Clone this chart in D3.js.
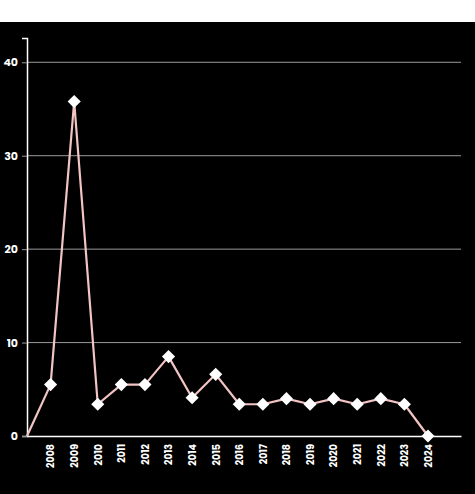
<!DOCTYPE html>
<html>
<head>
<meta charset="utf-8">
<script src="https://cdn.jsdelivr.net/npm/d3@7"></script>
<style>
    body { margin: 0; background: #fff; }
    svg { display: block; }
    text { font-family: "Poppins", "Inter", "Lato", sans-serif; font-weight: 700; fill: #fff; }
</style>
</head>
<body>
<svg class="chart"></svg>
<script>
(function () {
    // data
    const years = [2007, 2008, 2009, 2010, 2011, 2012, 2013, 2014, 2015, 2016, 2017, 2018, 2019, 2020, 2021, 2022, 2023, 2024];
    const values = [0, 5.5, 35.8, 3.4, 5.5, 5.5, 8.5, 4.1, 6.6, 3.4, 3.4, 4.0, 3.4, 4.0, 3.4, 4.0, 3.4, 0];
    const yTicks = [0, 10, 20, 30, 40];
    // first point is just the line's start, no marker and no label
    const labelYears = years.slice(1);

    const width = 475;
    const height = 494;
    const margin = { left: 27, top: 38, right: 14, bottom: 58 };

    let data = years.map(function (y, i) { return { year: y, value: values[i] }; });

    let svg = d3.select("svg.chart")
        .attr("width", width)
        .attr("height", height);

    svg.append("rect")
        .attr("x", 0)
        .attr("y", 22)
        .attr("width", width)
        .attr("height", height - 22)
        .attr("fill", "#000");

    let x = d3.scaleLinear()
        .domain([2007, 2025.4])
        .range([margin.left, width - margin.right]);

    let y = d3.scaleLinear()
        .domain([0, 42.6])
        .range([height - margin.bottom, margin.top]);

    // gridlines
    svg.append("g")
        .selectAll("line")
        .data(yTicks.filter(function (d) { return d > 0; }))
        .enter().append("line")
        .attr("x1", margin.left)
        .attr("x2", width - margin.right)
        .attr("y1", function (d) { return y(d); })
        .attr("y2", function (d) { return y(d); })
        .attr("stroke", "#9a9a9a")
        .attr("stroke-width", 1);

    // y axis
    let yAxis = svg.append("g")
        .attr("transform", "translate(" + margin.left + ",0)")
        .call(d3.axisLeft(y).tickValues(yTicks).tickSize(5).tickPadding(4));
    yAxis.select(".domain").attr("stroke", "#fff").attr("stroke-width", 1.5);
    yAxis.selectAll(".tick line").attr("stroke", "#9a9a9a");
    yAxis.selectAll(".tick text").attr("font-size", 11).attr("fill", "#fff");

    // x axis
    let xAxis = svg.append("g")
        .attr("transform", "translate(0," + y(0) + ")")
        .call(d3.axisBottom(x).tickValues(labelYears).tickFormat(d3.format("d")).tickSize(0).tickPadding(8));
    xAxis.select(".domain").attr("stroke", "#fff").attr("stroke-width", 1.5);
    xAxis.selectAll(".tick text")
        .attr("font-size", 9.5)
        .attr("fill", "#fff")
        .attr("transform", "rotate(-90)")
        .attr("text-anchor", "end")
        .attr("dy", "0.35em")
        .attr("x", -8)
        .attr("y", 0);

    // line
    let line = d3.line()
        .x(function (d) { return x(d.year); })
        .y(function (d) { return y(d.value); });

    svg.append("path")
        .datum(data)
        .attr("fill", "none")
        .attr("stroke", "#f2c4c4")
        .attr("stroke-width", 2.2)
        .attr("stroke-linejoin", "round")
        .attr("d", line);

    // markers
    svg.append("g")
        .selectAll("path")
        .data(data.slice(1))
        .enter().append("path")
        .attr("transform", function (d) { return "translate(" + x(d.year) + "," + y(d.value) + ")"; })
        .attr("d", d3.symbol().type(d3.symbolDiamond2).size(110))
        .attr("fill", "#fff");
}());
</script>
</body>
</html>
